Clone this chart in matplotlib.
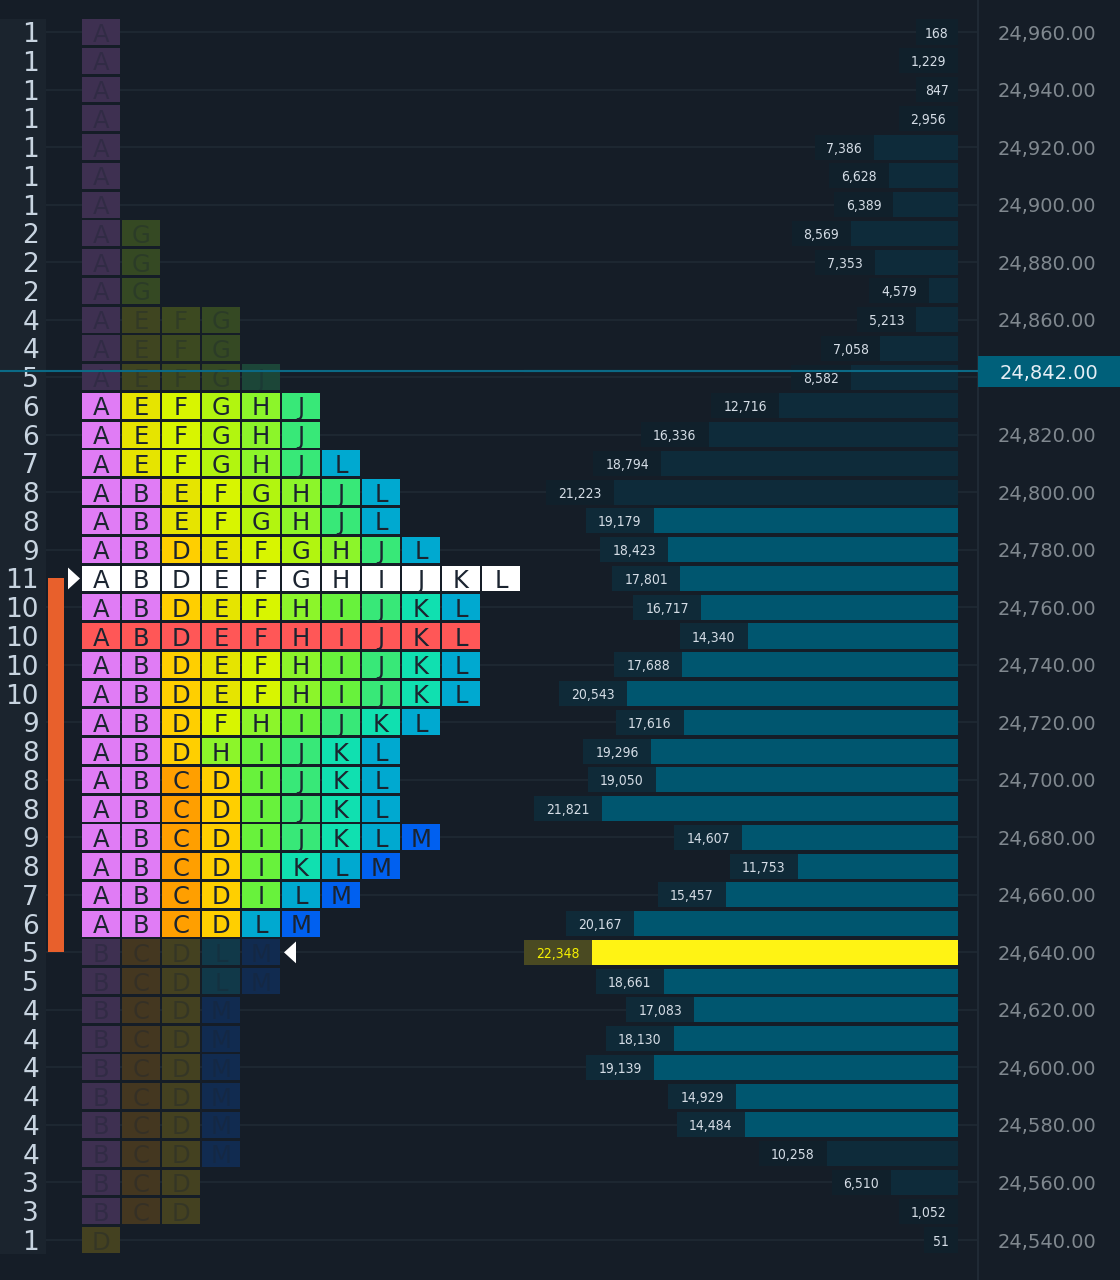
import matplotlib.pyplot as plt
from matplotlib.patches import Rectangle, Polygon
from matplotlib.transforms import blended_transform_factory

# price levels, top to bottom
prices = [24960, 24950, 24940, 24930, 24920, 24910, 24900, 24890, 24880, 24870,
          24860, 24850, 24840, 24830, 24820, 24810, 24800, 24790, 24780, 24770,
          24760, 24750, 24740, 24730, 24720, 24710, 24700, 24690, 24680, 24670,
          24660, 24650, 24640, 24630, 24620, 24610, 24600, 24590, 24580, 24570,
          24560, 24550, 24540]

# TPO letters at each price
tpo = ["A", "A", "A", "A", "A", "A", "A", "AG", "AG", "AG",
       "AEFG", "AEFG", "AEFGJ", "AEFGHJ", "AEFGHJ", "AEFGHJL", "ABEFGHJL", "ABEFGHJL",
       "ABDEFGHJL", "ABDEFGHIJKL", "ABDEFHIJKL", "ABDEFHIJKL", "ABDEFHIJKL", "ABDEFHIJKL",
       "ABDFHIJKL", "ABDHIJKL", "ABCDIJKL", "ABCDIJKL", "ABCDIJKLM", "ABCDIKLM",
       "ABCDILM", "ABCDLM", "BCDLM", "BCDLM", "BCDM", "BCDM", "BCDM", "BCDM",
       "BCDM", "BCDM", "BCD", "BCD", "D"]

# volume at each price
volumes = [168, 1229, 847, 2956, 7386, 6628, 6389, 8569, 7353, 4579,
           5213, 7058, 8582, 12716, 16336, 18794, 21223, 19179, 18423, 17801,
           16717, 14340, 17688, 20543, 17616, 19296, 19050, 21821, 14607, 11753,
           15457, 20167, 22348, 18661, 17083, 18130, 19139, 14929, 14484, 10258,
           6510, 1052, 51]

tpo_poc = 24770
hover_row = 24750
tpo_bright_high, tpo_bright_low = 24830, 24650
vol_va_high, vol_va_low = 24790, 24580
ib_high, ib_low = 24770, 24640
open_price, close_price = 24770, 24640
last_price = 24842

letter_colors = {
    "A": "#e07cf5", "B": "#e07cf5", "C": "#ff9f00", "D": "#ffcf00",
    "E": "#e6e400", "F": "#d8f500", "G": "#b2f50f", "H": "#8cf52a",
    "I": "#68f23c", "J": "#38e878", "K": "#10e0b0", "L": "#00a9d0",
    "M": "#0060f0",
}

bg = "#151d27"
dark_text = "#1b2430"


def dim(c, a=0.2):
    r, g, b = [int(c[i:i + 2], 16) for i in (1, 3, 5)]
    br, bgc, bb = 0x16, 0x1e, 0x28
    return "#%02x%02x%02x" % (int(a * r + (1 - a) * br),
                               int(a * g + (1 - a) * bgc),
                               int(a * b + (1 - a) * bb))


row_px = (1240 - 32) / (len(prices) - 1)
ylo = prices[-1] - (1280 - 1240) / row_px * 10
yhi = prices[0] + 32 / row_px * 10

fig = plt.figure(figsize=(11.2, 12.8), dpi=100, facecolor=bg)
ax = fig.add_axes([0, 0, 978 / 1120, 1])
ax.set_facecolor(bg)
ax.set_xlim(-82 / 40, (978 - 82) / 40)
ax.set_ylim(ylo, yhi)

# price scale; the label under the last-price box is hidden
ticks = prices[::2]
ax.set_yticks(ticks)
ax.set_yticklabels(["" if abs(p - last_price) < 10 else f"{p:,.2f}" for p in ticks])
ax.yaxis.tick_right()
ax.tick_params(axis="y", length=0, pad=14, labelsize=14, labelcolor="#80888f")
ax.set_xticks([])
for s in ["top", "left", "bottom"]:
    ax.spines[s].set_visible(False)
ax.spines["right"].set_color("#202a35")
ax.spines["right"].set_linewidth(1.5)
ax.grid(axis="y", color="#1d2731", lw=1.5)
ax.set_axisbelow(True)

# count column background
ax.add_patch(Rectangle((-2.05, prices[-1] - 5), 1.15, prices[0] - prices[-1] + 9.5,
                       color="#1b242e", lw=0, zorder=1))

for p, row in zip(prices, tpo):
    ax.text(-1.075, p, str(len(row)), ha="right", va="center_baseline",
            fontsize=19, color="#c8d4e0", zorder=3)
    bright = tpo_bright_low <= p <= tpo_bright_high
    for j, L in enumerate(row):
        if p == tpo_poc:
            fc, tc, ta = "#ffffff", dark_text, 1
        elif p == hover_row:
            fc, tc, ta = "#ff5757", dark_text, 1
        elif bright:
            fc, tc, ta = letter_colors[L], dark_text, 1
        else:
            fc, tc, ta = dim(letter_colors[L]), dark_text, 0.35
        ax.add_patch(Rectangle((j, p - 4.5), 0.95, 9.0, color=fc, lw=0, zorder=2))
        ax.text(j + 0.475, p, L, ha="center", va="center_baseline", fontsize=17.5,
                color=tc, alpha=ta, zorder=3)

# initial balance bar
ax.add_patch(Rectangle((-0.85, ib_low), 0.4, ib_high - ib_low, color="#e8602c", lw=0, zorder=2))

# open / close markers
h = 3.8
ax.add_patch(Polygon([(-0.35, open_price + h), (-0.35, open_price - h), (-0.05, open_price)],
                     closed=True, color="white", lw=0, zorder=4))
n_close = len(tpo[prices.index(close_price)])
ax.add_patch(Polygon([(n_close + 0.35, close_price + h), (n_close + 0.35, close_price - h),
                      (n_close + 0.05, close_price)], closed=True, color="white", lw=0, zorder=4))

# last price line and label
ax.axhline(last_price, color="#0b6a86", lw=1.5, zorder=6)
trans = blended_transform_factory(ax.transAxes, ax.transData)
right = 1120 / 978
ax.add_patch(Rectangle((1.0, last_price - 5.4), right - 1.0, 10.8, transform=trans,
                       color="#00607a", lw=0, clip_on=False, zorder=10))
ax.text((1 + right) / 2, last_price, f"{last_price:,.2f}", transform=trans, ha="center",
        va="center_baseline", fontsize=14, color="#e6eef5", zorder=11, clip_on=False)

# volume profile
vmax = max(volumes)
vax = fig.add_axes([524 / 1120, 0, 434 / 1120, 1])
vax.patch.set_alpha(0)
vax.set_xlim(vmax, 0)
vax.set_ylim(ylo, yhi)
vax.axis("off")

bar_colors, box_colors, txt_colors = [], [], []
for p, v in zip(prices, volumes):
    if v == vmax:
        bar_colors.append("#fff314"); box_colors.append("#4a4a22"); txt_colors.append("#f5f000")
    elif vol_va_low <= p <= vol_va_high:
        bar_colors.append("#00566f"); box_colors.append("#0f2a38"); txt_colors.append("#d5dde6")
    else:
        bar_colors.append("#0e2b3a"); box_colors.append("#10202b"); txt_colors.append("#d5dde6")

vax.barh(prices, volumes, height=8.7, color=bar_colors, lw=0, zorder=2)
px_to_vol = vmax / 434
for p, v, bc, tc in zip(prices, volumes, box_colors, txt_colors):
    lbl = f"{v:,}"
    bw = (8.5 * len(lbl) + 17) * px_to_vol
    left = max(v, bw)
    vax.add_patch(Rectangle((left - bw, p - 4.35), bw, 8.7, color=bc, lw=0, zorder=3, clip_on=False))
    vax.text(left - bw / 2, p, lbl, ha="center", va="center_baseline", fontsize=10,
             fontstretch="condensed", color=tc, zorder=4)
vax.axhline(last_price, color="#0b6a86", lw=1.5, zorder=6)

fig.savefig("out.png", dpi=100, facecolor=bg)
